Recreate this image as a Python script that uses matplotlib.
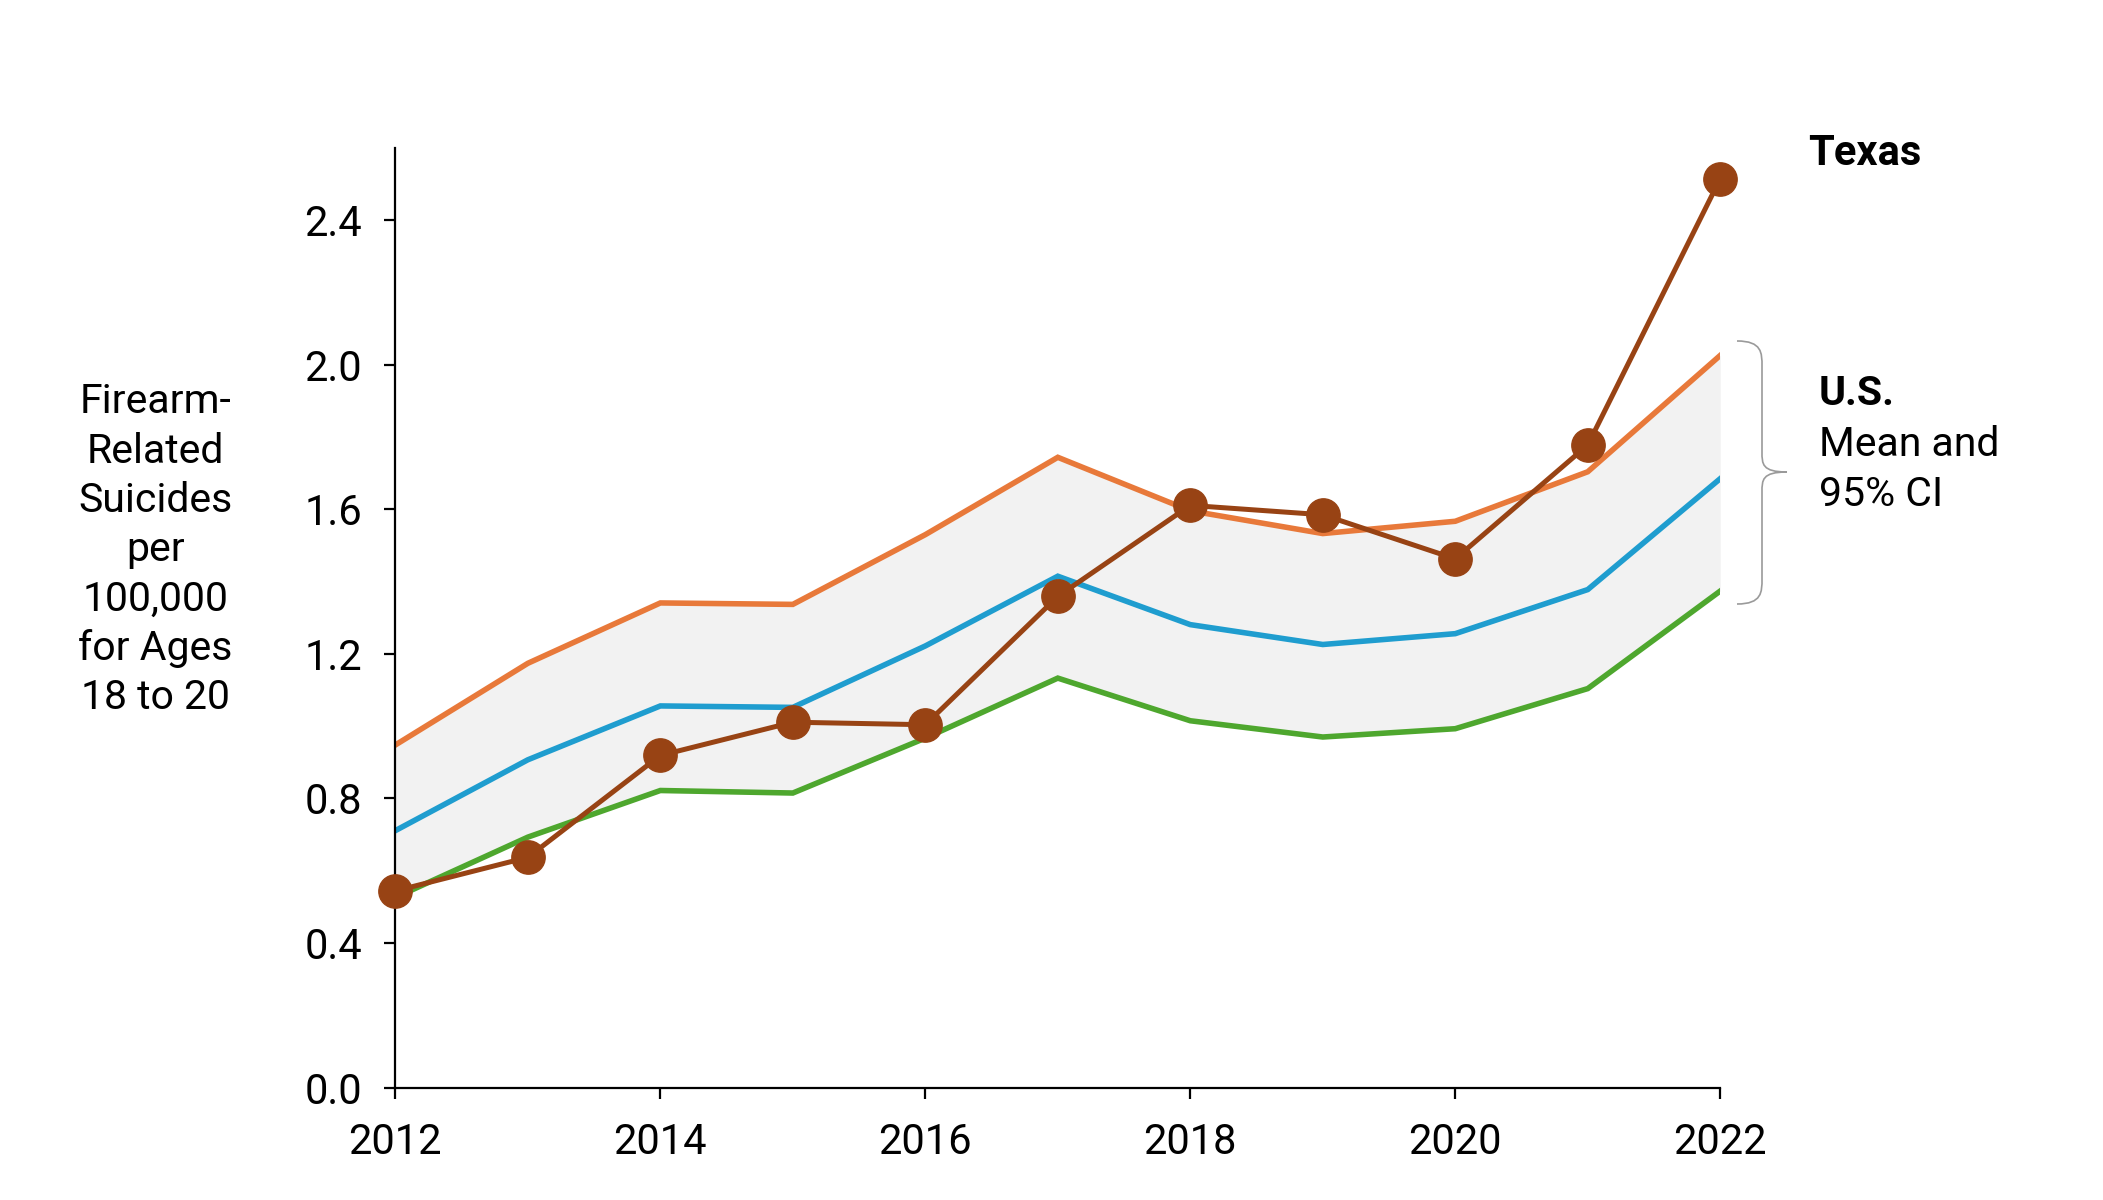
import matplotlib.pyplot as plt
from matplotlib.path import Path
from matplotlib.patches import PathPatch
import numpy as np

plt.rcParams['font.family'] = ['Roboto', 'DejaVu Sans']

years = [2012, 2013, 2014, 2015, 2016, 2017, 2018, 2019, 2020, 2021, 2022]
texas = [0.544, 0.637, 0.919, 1.011, 1.004, 1.359, 1.611, 1.585, 1.463, 1.778, 2.515]
us_upper = [0.948, 1.174, 1.341, 1.337, 1.530, 1.744, 1.596, 1.533, 1.567, 1.704, 2.026]
us_mean = [0.711, 0.907, 1.056, 1.052, 1.222, 1.415, 1.281, 1.226, 1.256, 1.378, 1.685]
us_lower = [0.526, 0.693, 0.822, 0.815, 0.967, 1.133, 1.015, 0.970, 0.993, 1.104, 1.374]

x_ticks = [2012, 2014, 2016, 2018, 2020, 2022]
y_ticks = [0.0, 0.4, 0.8, 1.2, 1.6, 2.0, 2.4]

fig = plt.figure(figsize=(21.03, 12), dpi=100)
ax = fig.add_axes([0.188, 0.0937, 0.630, 0.783])

ax.fill_between(years, us_lower, us_upper, color='#f2f2f2', linewidth=0, zorder=1)
ax.plot(years, us_upper, color='#e8793a', lw=4.0, zorder=2, solid_joinstyle='miter')
ax.plot(years, us_mean, color='#1f9dcf', lw=4.0, zorder=2, solid_joinstyle='miter')
ax.plot(years, us_lower, color='#4ea72e', lw=4.0, zorder=2, solid_joinstyle='miter')
ax.plot(years, texas, color='#984314', lw=3.6, marker='o', ms=24,
        markerfacecolor='#984314', markeredgecolor='#984314', zorder=3, clip_on=False)

ax.set_xlim(2012, 2022)
ax.set_ylim(0, 2.6)
ax.set_xticks(x_ticks)
ax.set_yticks(y_ticks)
ax.set_yticklabels([f'{v:.1f}' for v in y_ticks])
ax.tick_params(axis='both', labelsize=30, width=1.6, length=8, direction='out')
ax.tick_params(axis='y', pad=16)
ax.tick_params(axis='x', pad=17)
for s in ['top', 'right']:
    ax.spines[s].set_visible(False)
for s in ['left', 'bottom']:
    ax.spines[s].set_linewidth(1.6)

fig.text(0.074, 0.542, 'Firearm-\nRelated\nSuicides\nper\n100,000\nfor Ages\n18 to 20',
         ha='center', va='center', multialignment='center', fontsize=29.5, linespacing=1.33)

fig.text(0.860, 0.872, 'Texas', ha='left', va='center', fontsize=30, fontweight='bold')
fig.text(0.865, 0.672, 'U.S.', ha='left', va='center', fontsize=29.5, fontweight='bold')
fig.text(0.865, 0.630, 'Mean and', ha='left', va='center', fontsize=29.5)
fig.text(0.865, 0.588, '95% CI', ha='left', va='center', fontsize=29.5)

# curly brace in pixel space
W, H = 2103, 1200
x0, x1, x2 = 1737, 1762, 1787
ytop, ymid, ybot = 1200 - 341, 1200 - 472, 1200 - 604
verts = [
    (x0 / W, ytop / H), (x1 / W, ytop / H), (x1 / W, (ytop - 12) / H), (x1 / W, (ytop - 25) / H),
    (x1 / W, (ymid + 20) / H),
    (x1 / W, (ymid + 8) / H), (x1 / W, ymid / H), (x2 / W, ymid / H),
    (x1 / W, ymid / H), (x1 / W, (ymid - 8) / H), (x1 / W, (ymid - 20) / H),
    (x1 / W, (ybot + 25) / H),
    (x1 / W, (ybot + 12) / H), (x1 / W, ybot / H), (x0 / W, ybot / H),
]
codes = [Path.MOVETO, Path.CURVE4, Path.CURVE4, Path.CURVE4,
         Path.LINETO,
         Path.CURVE4, Path.CURVE4, Path.CURVE4,
         Path.CURVE4, Path.CURVE4, Path.CURVE4,
         Path.LINETO,
         Path.CURVE4, Path.CURVE4, Path.CURVE4]
brace = PathPatch(Path(verts, codes), transform=fig.transFigure, fill=False,
                  edgecolor='#9a9a9a', lw=1.2)
fig.patches.append(brace)

fig.savefig('out.png', dpi=100)
